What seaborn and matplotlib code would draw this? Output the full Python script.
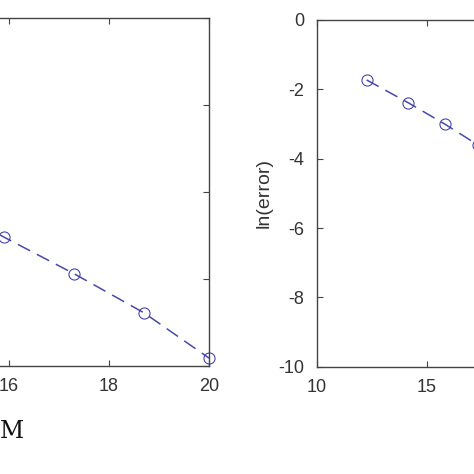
import numpy as np
import pandas as pd
import seaborn as sns
import matplotlib.pyplot as plt

# left panel (only right part visible)
left_x = [14.4, 15.9, 17.3, 18.7, 20.0]
left_y = [1.95, 1.48, 1.06, 0.61, 0.09]
# right panel (only left part visible)
right_x = [12.25, 14.15, 15.8, 17.3, 18.8, 20.3]
right_y = [-1.73, -2.39, -3.0, -3.6, -4.2, -4.8]

sns.set_style("white")
plt.rcParams["font.family"] = ["Liberation Sans", "DejaVu Sans"]
plt.rcParams["axes.unicode_minus"] = False
fig = plt.figure(figsize=(4.74, 4.74), dpi=100)

line_kw = dict(color="#4848a8", linestyle=(0, (9, 5)), marker="o", markersize=8,
               markerfacecolor="none", markeredgecolor="#3c3ca8", linewidth=1.1, clip_on=False)

ax1 = fig.add_axes([-0.255, 0.228, 0.696, 0.734])
sns.lineplot(x=left_x, y=left_y, ax=ax1, **line_kw)
ax1.set_xlim(13.4, 20)
ax1.set_ylim(0, 4)
ax1.set_xticks([14, 16, 18, 20])
ax1.set_yticks([0, 1, 2, 3, 4])
ax1.set_yticklabels([])

ax2 = fig.add_axes([0.669, 0.226, 0.696, 0.732])
sns.lineplot(x=right_x, y=right_y, ax=ax2, **line_kw)
ax2.set_xlim(10, 25)
ax2.set_ylim(-10, 0)
ax2.set_xticks([10, 15, 20, 25])
ax2.set_yticks([0, -2, -4, -6, -8, -10])
ax2.set_ylabel("ln(error)", fontsize=14, color="#333333", labelpad=4)

for ax in (ax1, ax2):
    for s in ax.spines.values():
        s.set_color("#444444")
        s.set_linewidth(1.0)
    ax.tick_params(direction="in", length=4, labelsize=13, labelcolor="#333333",
                   color="#444444", pad=9, top=True, right=True, bottom=True, left=True)

fig.text(0.0, 0.075, "M", fontsize=17, family="DejaVu Serif", color="#111111")

fig.savefig("out.png", dpi=100)
